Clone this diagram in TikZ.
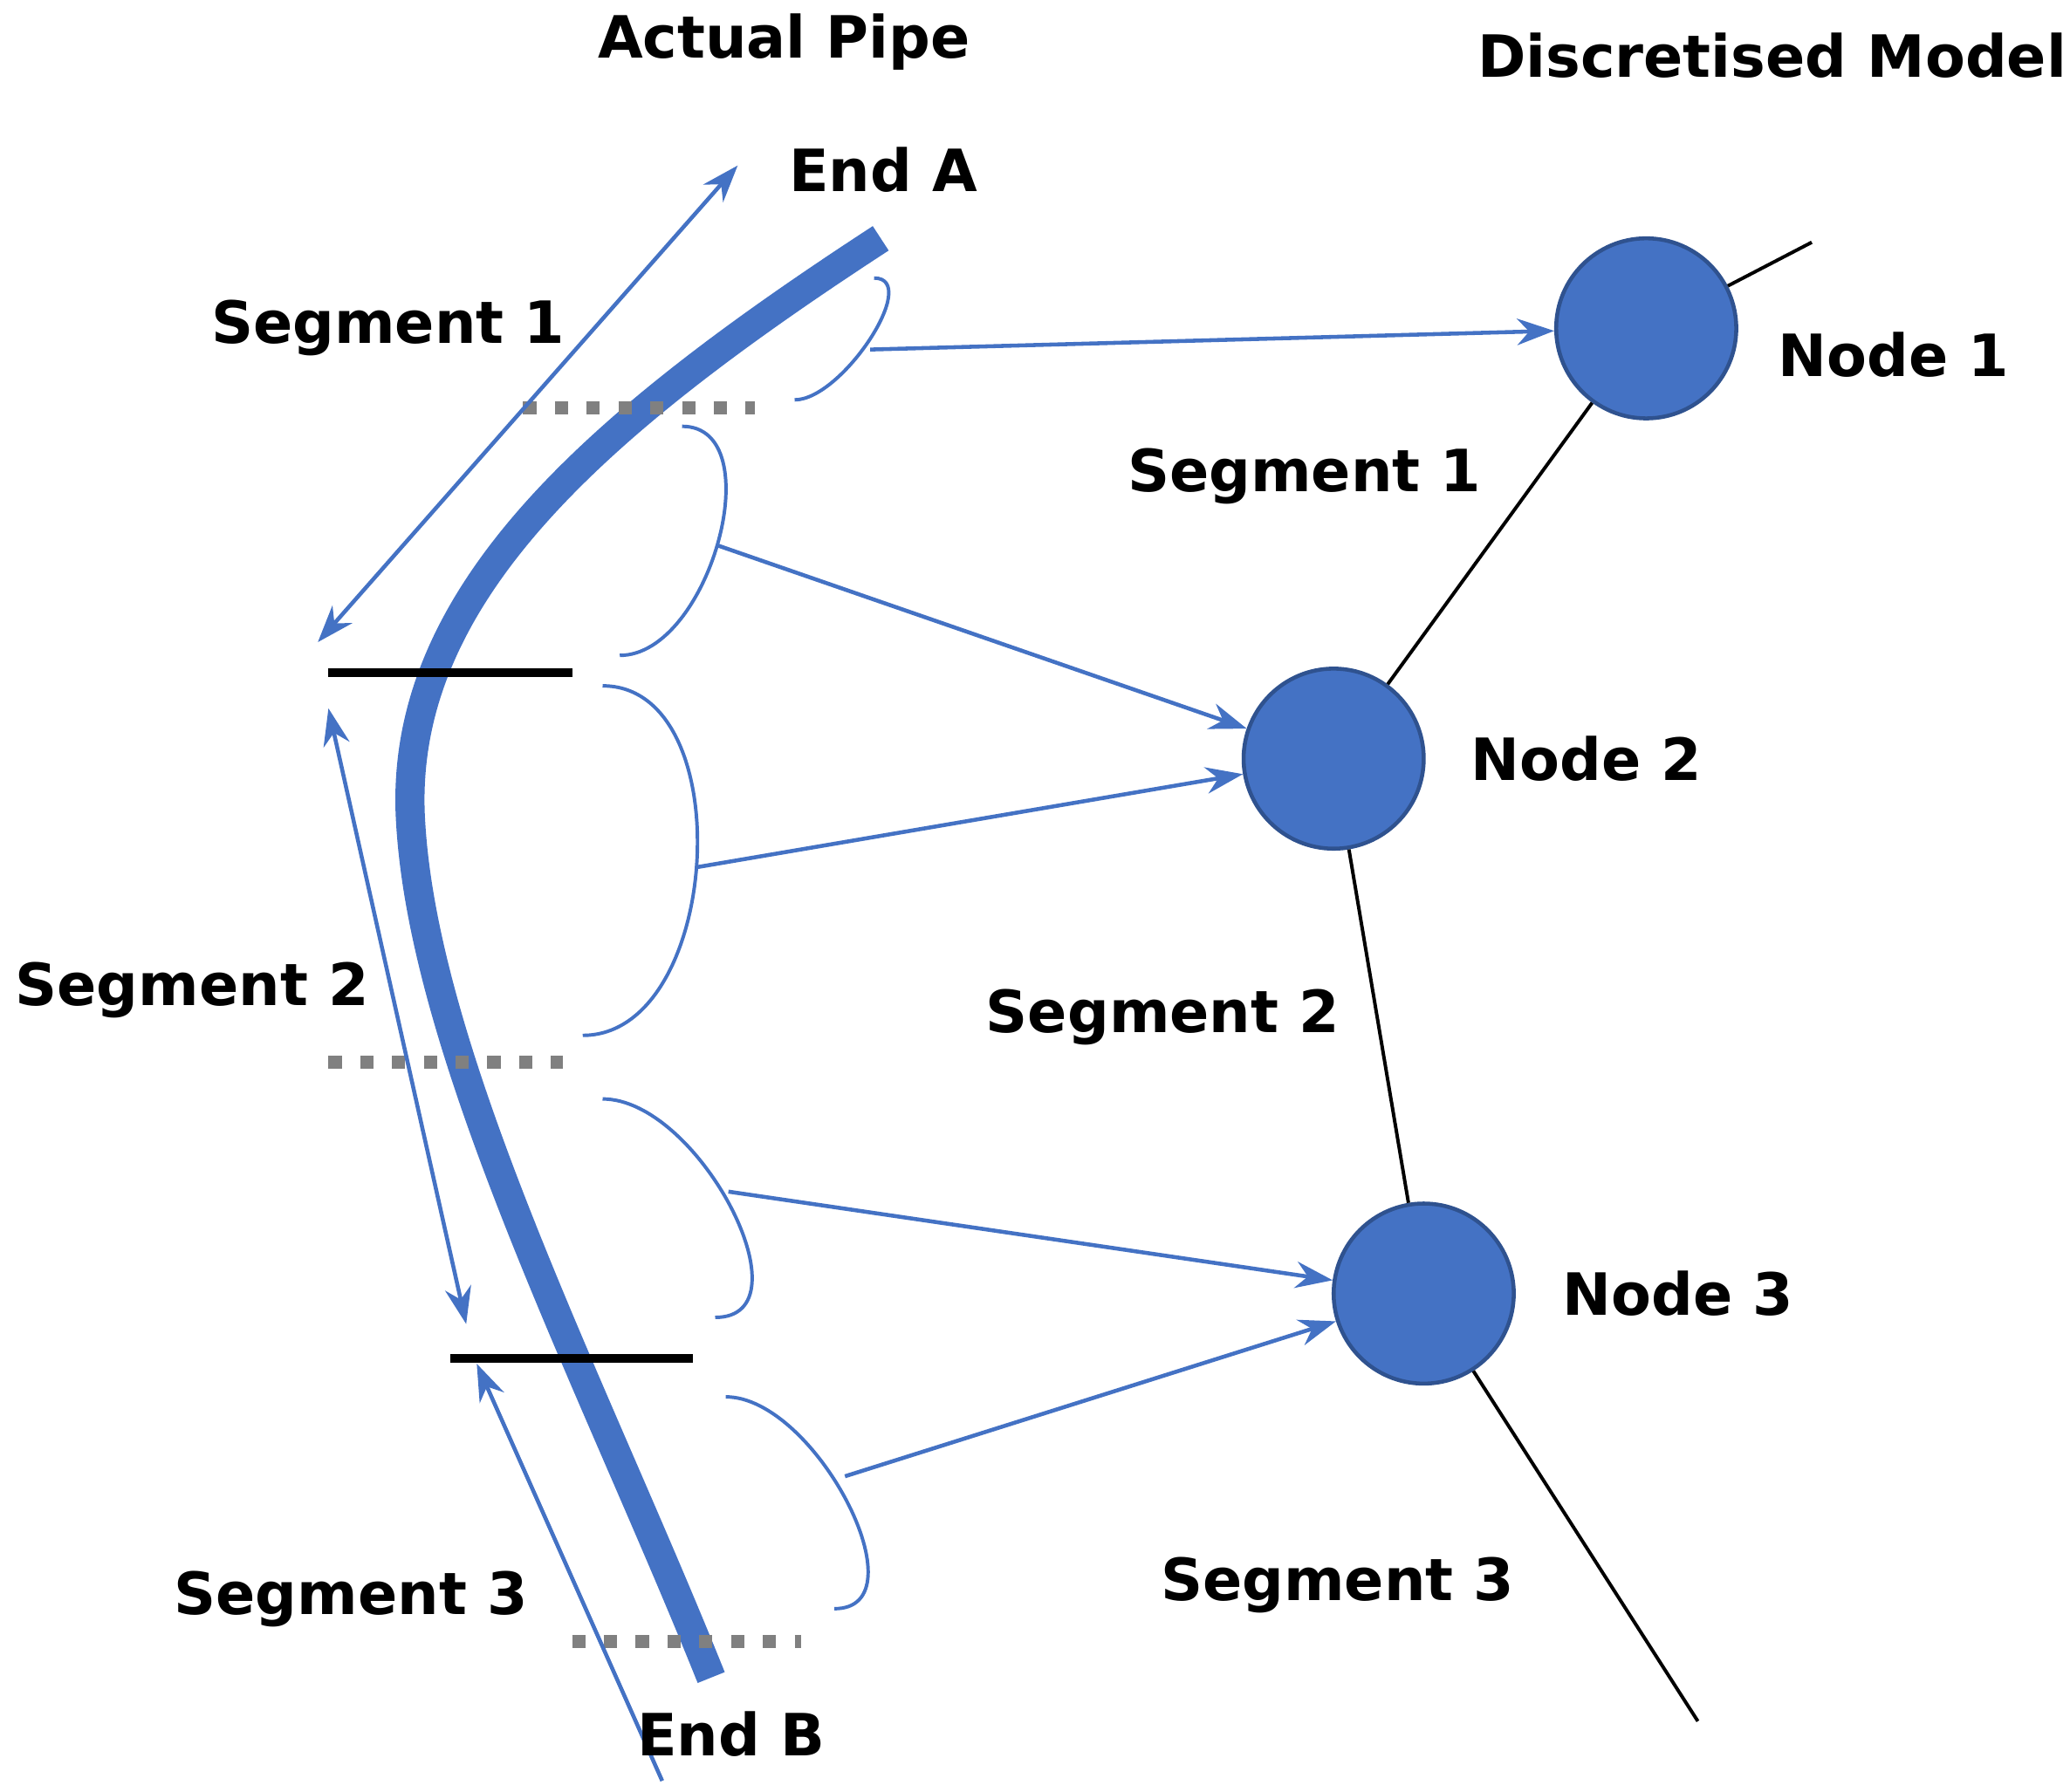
\documentclass[tikz,border=0pt]{standalone}
\usepackage{fontspec}
\setmainfont{DejaVu Sans}
\usetikzlibrary{arrows.meta,calc}
\definecolor{pb}{HTML}{4472C4}
\definecolor{pd}{HTML}{2F528F}
\begin{document}
\begin{tikzpicture}[x=0.5pt,y=-0.5pt,
 lab/.style={font=\fontsize{22}{26}\selectfont\bfseries},
 ar/.style={pb,line width=1.5pt,-{Stealth[length=14pt,width=10pt]}},
 dar/.style={pb,line width=1.5pt,{Stealth[length=14pt,width=10pt]}-{Stealth[length=14pt,width=10pt]}},
 brc/.style={pb,line width=1.3pt},
 bar/.style={black,line width=3.5pt},
 dots/.style={gray,line width=5pt,dash pattern=on 5pt off 7pt},
 nd/.style={circle,fill=pb,draw=pd,line width=1.5pt,minimum size=68pt,inner sep=0pt}]
\useasboundingbox (0,0) rectangle (1563,1353);
% pipe
\draw[pb,line width=11pt] (665,180) .. controls (450,320) and (300,450) .. (310,620) .. controls (320,800) and (450,1050) .. (537,1267);
% bars
\draw[bar] (248,508) -- (432,508);
\draw[bar] (340,1026) -- (523,1026);
\draw[dots] (395,308) -- (570,308);
\draw[dots] (248,802) -- (425,802);
\draw[dots] (432,1240) -- (605,1240);
% extent arrows
\coordinate (a1) at (557,125); \coordinate (a2) at (240,485);
\coordinate (b1) at (248,535); \coordinate (b2) at (352,1000);
\coordinate (c1) at (500,1345); \coordinate (c2) at (360,1030);
\draw[dar] (a1) -- (a2);
\draw[dar] (b1) -- (b2);
\draw[ar] (c1) -- (c2);
% braces
\draw[brc] (660,210) .. controls (696,210) and (636,302) .. (600,302);
\draw[brc] (515,322) .. controls (583,322) and (536,495) .. (468,495);
\draw[brc] (455,518) .. controls (560,518) and (545,782) .. (440,782);
\draw[brc] (455,830) .. controls (528,830) and (613,995) .. (540,995);
\draw[brc] (548,1055) .. controls (616,1055) and (698,1215) .. (630,1215);
\coordinate (p1) at (657,264);
\coordinate (p2) at (542,412);
\coordinate (p3) at (526,655);
\coordinate (p4) at (550,900);
\coordinate (p5) at (638,1115);
% nodes
\node[nd] (n1) at (1243,248) {};
\node[nd] (n2) at (1007,573) {};
\node[nd] (n3) at (1075,977) {};
\coordinate (t) at (1368,183);
\coordinate (bt) at (1282,1300);
\draw[line width=1.3pt] (t) -- (n1) -- (n2) -- (n3) -- (bt);
\draw[ar] (p1) -- (n1);
\draw[ar] (p2) -- (n2);
\draw[ar] (p3) -- (n2);
\draw[ar] (p4) -- (n3);
\draw[ar] (p5) -- (n3);
% labels
\node[lab] (l1) at (592,32) {Actual Pipe};
\node[lab] (l2) at (1338,42) {Discretised Model};
\node[lab] (l3) at (667,128) {End A};
\node[lab] (l4) at (293,248) {Segment 1};
\node[lab] (l5) at (1430,268) {Node 1};
\node[lab] (l6) at (985,360) {Segment 1};
\node[lab] (l7) at (1198,573) {Node 2};
\node[lab] (l8) at (145,748) {Segment 2};
\node[lab] (l9) at (878,768) {Segment 2};
\node[lab] (l10) at (1267,977) {Node 3};
\node[lab] (l11) at (265,1208) {Segment 3};
\node[lab] (l12) at (1010,1197) {Segment 3};
\node[lab] (l13) at (552,1310) {End B};
\end{tikzpicture}
\end{document}
